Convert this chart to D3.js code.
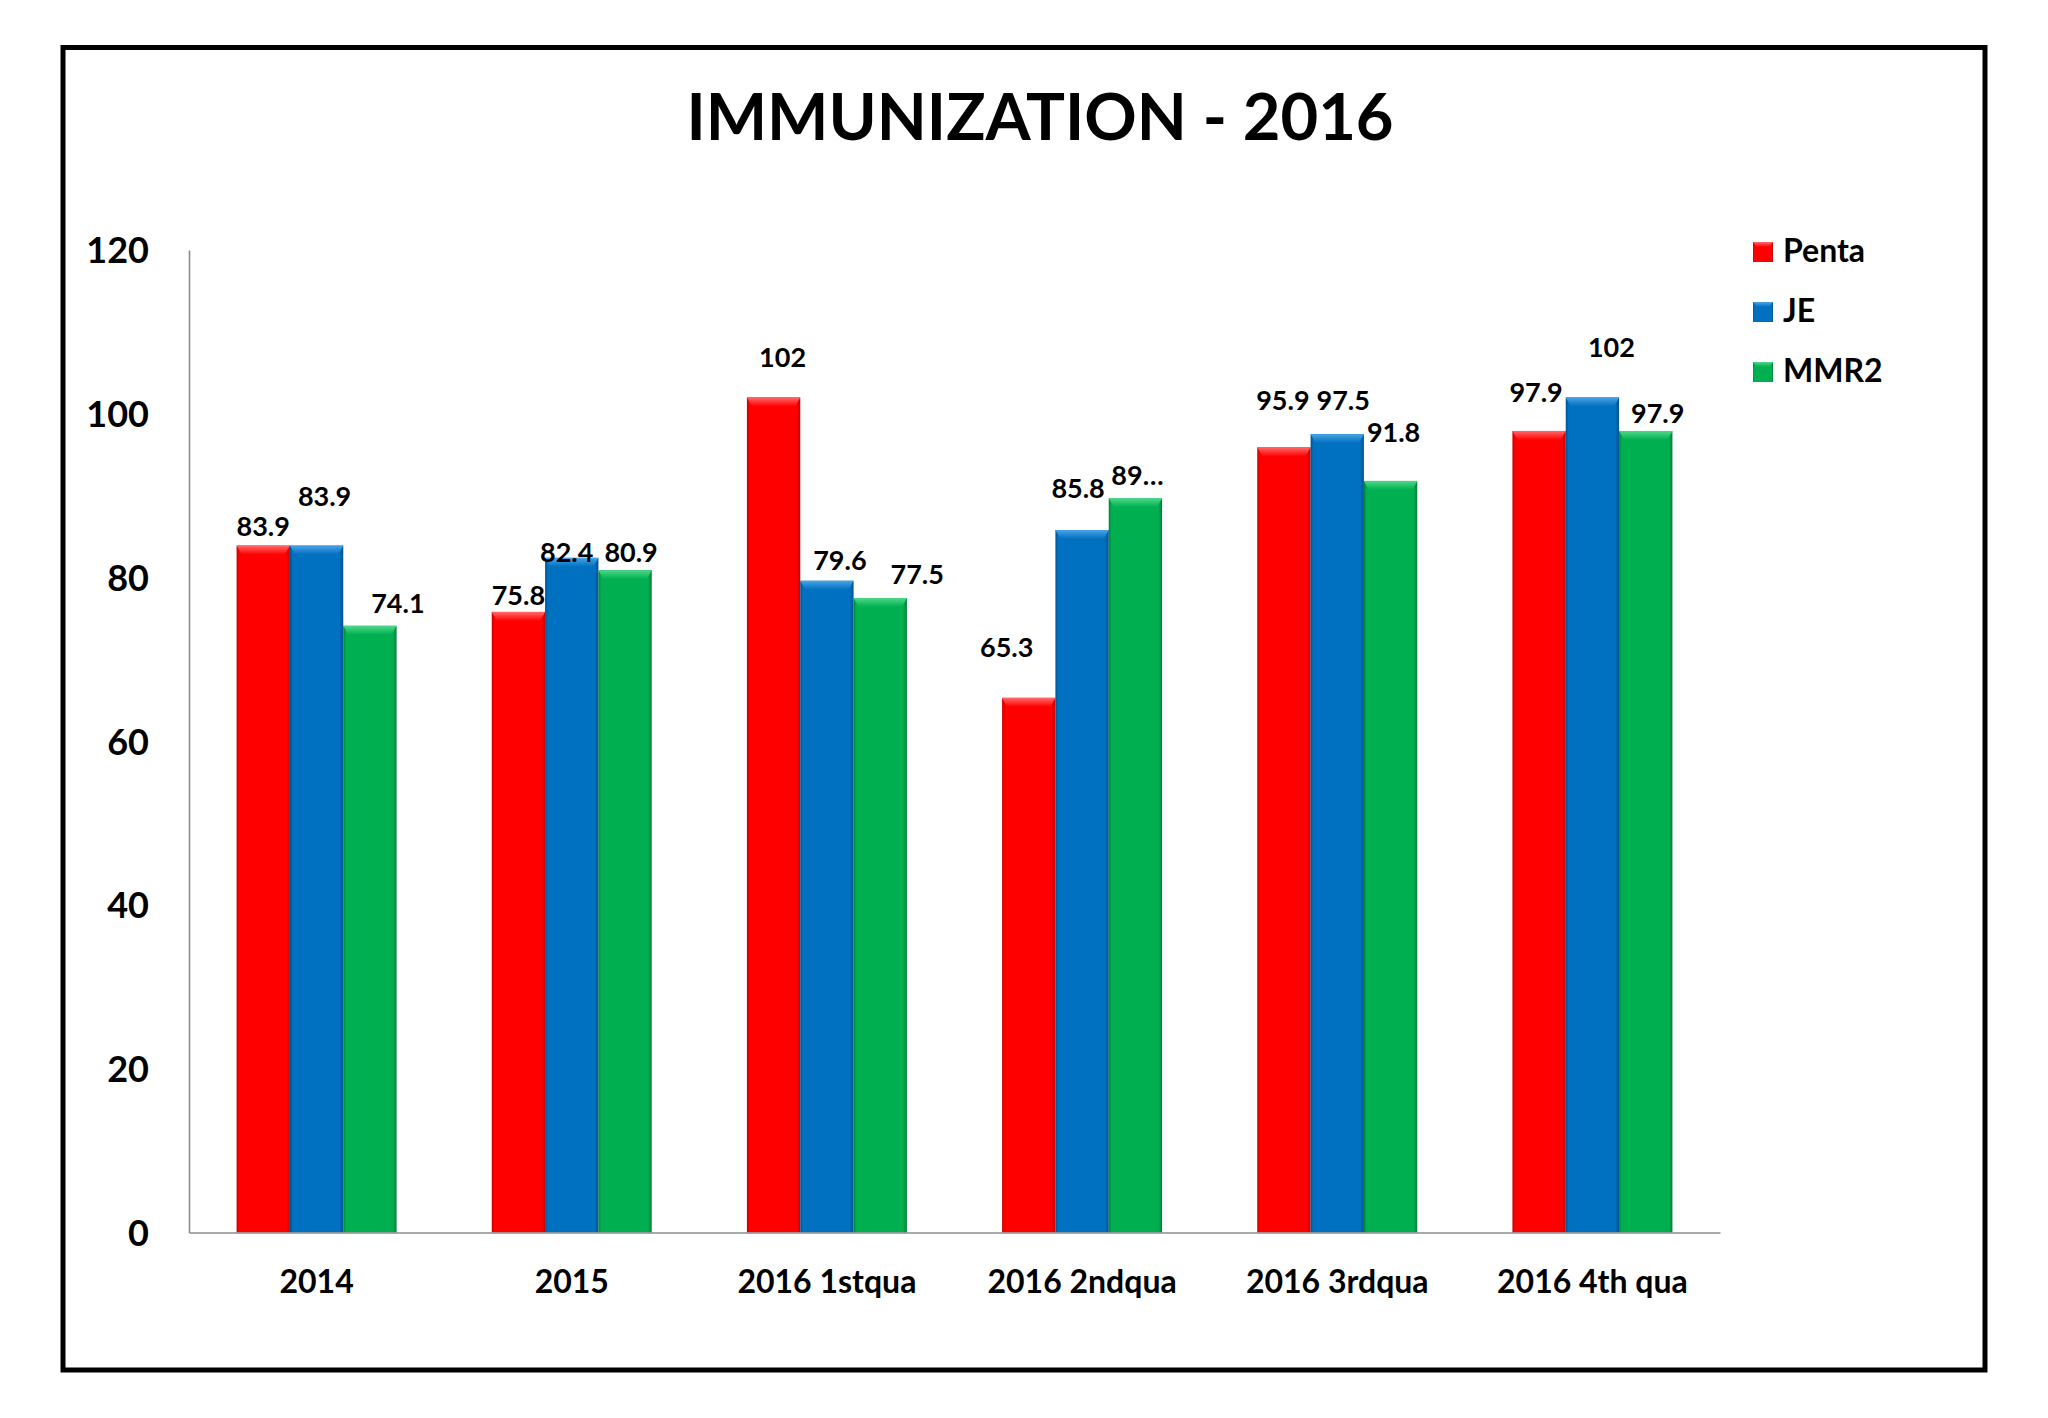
<!DOCTYPE html>
<html>
<head>
<meta charset="utf-8">
<script src="https://cdn.jsdelivr.net/npm/d3@7"></script>
<style>
  html, body { margin: 0; padding: 0; background: #ffffff; }
  svg { display: block; }
  text { font-family: Lato, "Open Sans", sans-serif; font-weight: 700; fill: #000; }
</style>
</head>
<body>
<svg id="chart" width="2048" height="1418"></svg>
<script>
// ---- data ----
const categories = ["2014", "2015", "2016 1stqua", "2016 2ndqua", "2016 3rdqua", "2016 4th qua"];
const seriesNames = ["Penta", "JE", "MMR2"];
const pentaValues = [83.9, 75.8, 102, 65.3, 95.9, 97.9];
const jeValues = [83.9, 82.4, 79.6, 85.8, 97.5, 102];
const mmr2Values = [74.1, 80.9, 77.5, 89.7, 91.8, 97.9];
const yTickValues = [0, 20, 40, 60, 80, 100, 120];
const titleText = "IMMUNIZATION - 2016";
// label text as shown in the picture (one label is truncated there)
const mmr2LabelText = ["74.1", "80.9", "77.5", "89\u2026", "91.8", "97.9"];

// ---- layout / style (kept separate from the data) ----
const colors = {
  Penta: { base: "#FF0000", dark: "#C40000", light: "#FF6A6A" },
  JE:    { base: "#0070C0", dark: "#00518C", light: "#4AA3E6" },
  MMR2:  { base: "#00B050", dark: "#007F38", light: "#4ED88A" }
};
// manual offsets of data labels, as moved in the original
const pentaNudge = [[0,0],[0,3],[9,-20],[-22,-31],[-1,-27],[-3,-19]];
const jeNudge    = [[8,-30],[-5,14],[13,-1],[-4,-22],[6,-14],[19,-30]];
const mmr2Nudge  = [[28,-3],[6,2],[37,-4],[2,-3],[3,-29],[12,2]];

const series = [
  { name: "Penta", values: pentaValues, labels: pentaValues.map(String), nudge: pentaNudge },
  { name: "JE",    values: jeValues,    labels: jeValues.map(String),    nudge: jeNudge },
  { name: "MMR2",  values: mmr2Values,  labels: mmr2LabelText,           nudge: mmr2Nudge }
];

const svg = d3.select("#chart");
const defs = svg.append("defs");

seriesNames.forEach(n => {
  const c = colors[n];
  const g = defs.append("linearGradient").attr("id", "side-" + n)
    .attr("x1", "0%").attr("x2", "100%").attr("y1", "0%").attr("y2", "0%");
  g.append("stop").attr("offset", "0%").attr("stop-color", c.dark);
  g.append("stop").attr("offset", "5%").attr("stop-color", c.base);
  g.append("stop").attr("offset", "93%").attr("stop-color", c.base);
  g.append("stop").attr("offset", "100%").attr("stop-color", c.dark);
  const t = defs.append("linearGradient").attr("id", "top-" + n)
    .attr("x1", "0%").attr("x2", "0%").attr("y1", "0%").attr("y2", "100%");
  t.append("stop").attr("offset", "0%").attr("stop-color", c.light);
  t.append("stop").attr("offset", "100%").attr("stop-color", c.base);
});

// outer frame
svg.append("rect")
  .attr("x", 63).attr("y", 47.5).attr("width", 1922).attr("height", 1322.5)
  .attr("fill", "#ffffff").attr("stroke", "#000").attr("stroke-width", 5);

// title
svg.append("text")
  .attr("x", 1040).attr("y", 140)
  .attr("text-anchor", "middle")
  .attr("font-size", 65)
  .text(titleText);

// scales
const x = d3.scaleBand().domain(categories).range([189, 1720])
  .paddingInner(0.373).paddingOuter(0.1865);
const xs = d3.scaleBand().domain(seriesNames).range([0, x.bandwidth()]).padding(0);
const y = d3.scaleLinear().domain([0, 120]).range([1232.5, 250]);

// y axis
const yAxis = svg.append("g").attr("transform", "translate(189,0)")
  .call(d3.axisLeft(y).tickValues(yTickValues).tickSize(0).tickPadding(40));
yAxis.select(".domain").attr("stroke", "#8c8c8c").attr("stroke-width", 1.6);
yAxis.selectAll(".tick text")
  .attr("font-size", 36).attr("dy", "0.36em")
  .style("font-family", "Lato, 'Open Sans', sans-serif").style("font-weight", 700).attr("fill", "#000");

// bars
series.forEach(s => {
  const g = svg.append("g").attr("class", "series-" + s.name);
  const data = categories.map((c, i) => ({ c, v: s.values[i], i }));
  g.selectAll("rect.bar").data(data).join("rect")
    .attr("class", "bar")
    .attr("x", d => x(d.c) + xs(s.name))
    .attr("y", d => y(d.v))
    .attr("width", xs.bandwidth())
    .attr("height", d => y(0) - y(d.v))
    .attr("fill", "url(#side-" + s.name + ")");
  // top bevel highlight
  g.selectAll("path.bevel").data(data).join("path")
    .attr("class", "bevel")
    .attr("d", d => {
      const x0 = x(d.c) + xs(s.name), x1 = x0 + xs.bandwidth(), y0 = y(d.v), b = 9;
      return `M${x0},${y0}L${x1},${y0}L${x1 - 5},${y0 + b}L${x0 + 5},${y0 + b}Z`;
    })
    .attr("fill", "url(#top-" + s.name + ")");
});

// x axis line (drawn over bar bottoms)
const xAxis = svg.append("g").attr("transform", `translate(0,${y(0)})`)
  .call(d3.axisBottom(x).tickSize(0).tickPadding(48));
xAxis.select(".domain").attr("stroke", "#8c8c8c").attr("stroke-width", 1.6);
xAxis.selectAll(".tick text")
  .attr("font-size", 32).attr("dy", 0)
  .attr("y", 60)
  .style("font-family", "Lato, 'Open Sans', sans-serif").style("font-weight", 700).attr("fill", "#000");

// data labels
series.forEach(s => {
  svg.append("g").selectAll("text").data(categories).join("text")
    .attr("x", (c, i) => x(c) + xs(s.name) + xs.bandwidth() / 2 + s.nudge[i][0])
    .attr("y", (c, i) => y(s.values[i]) - 10 + s.nudge[i][1])
    .attr("text-anchor", "middle")
    .attr("font-size", 27)
    .text((c, i) => s.labels[i]);
});

// legend
const legend = svg.append("g").attr("transform", "translate(1753,262)");
const li = legend.selectAll("g").data(seriesNames).join("g")
  .attr("transform", (d, i) => `translate(0,${i * 60})`);
li.append("rect").attr("x", 0).attr("y", -20).attr("width", 20).attr("height", 20)
  .attr("fill", d => "url(#side-" + d + ")");
li.append("path").attr("d", "M0,-20L20,-20L16,-15L4,-15Z")
  .attr("fill", d => "url(#top-" + d + ")");
li.append("text").attr("x", 30).attr("y", 0).attr("font-size", 32).text(d => d);
</script>
</body>
</html>
